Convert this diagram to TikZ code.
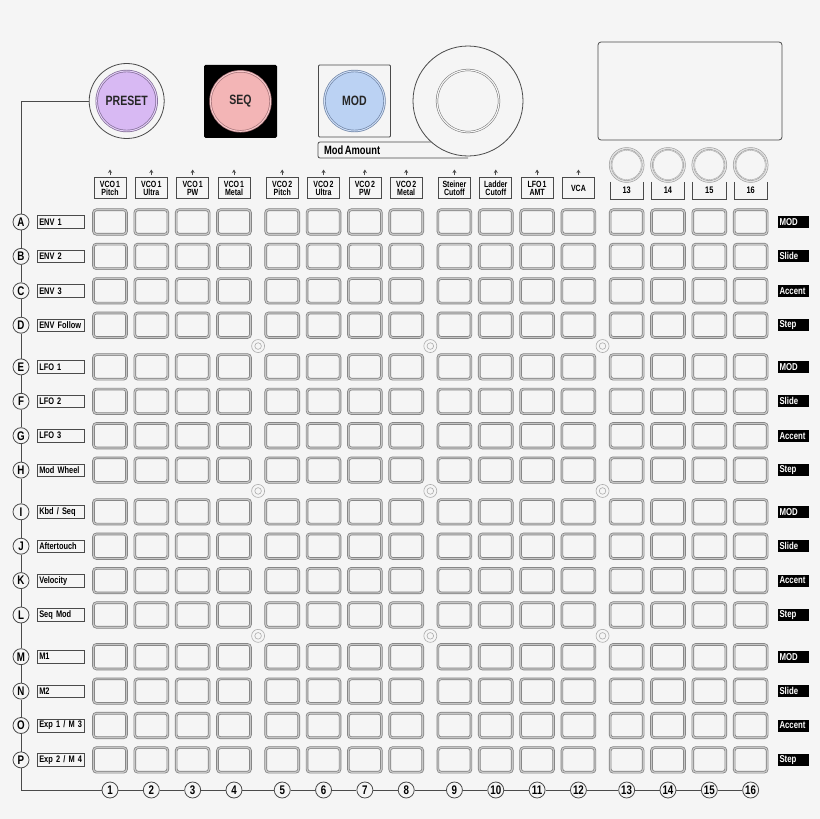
\documentclass[tikz,border=0pt]{standalone}
\usepackage{fontspec}
\setmainfont{Liberation Sans}[FakeStretch=0.78, WordSpace=0.55]
\usetikzlibrary{positioning,calc,arrows.meta}

\definecolor{panel}{HTML}{F5F5F5}
\definecolor{edge}{HTML}{4A4A4A}
\definecolor{padline}{HTML}{7E7E7E}
\definecolor{presetfill}{HTML}{D8B9F3}
\definecolor{presetring}{HTML}{7E6A93}
\definecolor{seqfill}{HTML}{F3B5B6}
\definecolor{seqring}{HTML}{A87479}
\definecolor{modfill}{HTML}{BBD2F3}
\definecolor{modring}{HTML}{6F84A6}

\begin{document}
\begin{tikzpicture}[%
    x=1pt, y=-1pt,
    >=Stealth,
    font=\bfseries,
    line/.style={draw=edge, line width=0.8pt},
    pad/.style={draw=padline, line width=0.7pt, double=gray!45, double distance=1.2pt,
      rounded corners=3pt, minimum width=33pt, minimum height=24.5pt, inner sep=0pt},
    ltr/.style={circle, line, fill=panel, minimum size=16pt, inner sep=0pt,
      font=\bfseries\fontsize{12.5}{12.5}\selectfont},
    src/.style={draw=edge, line width=0.7pt, text width=43pt, inner sep=2pt,
      minimum height=12.5pt, align=left, font=\bfseries\fontsize{9.5}{9.5}\selectfont},
    flag/.style={fill=black, text=white, text width=28pt, inner sep=1.5pt,
      minimum height=12pt, align=left, font=\bfseries\fontsize{10}{10}\selectfont},
    hdr/.style={draw=edge, line width=0.7pt, minimum width=32pt, minimum height=21pt,
      inner sep=0.5pt, align=center, font=\bfseries\fontsize{9}{8.7}\selectfont},
    btn/.style={circle, minimum size=60pt, line width=0.7pt, double distance=1pt,
      font=\bfseries\fontsize{13.5}{13.5}\selectfont, text=black!85},
    knob/.style={circle, draw=gray!85, line width=0.5pt, double=gray!25,
      double distance=1.4pt, minimum size=33pt},
    screw/.style={circle, draw=gray!65, line width=0.6pt, minimum size=13pt, inner sep=0pt},
  ]
  \fill[panel] (0,0) rectangle (820,819);
  \useasboundingbox (0,0) rectangle (820,819);

  % top controls
  \node (presetring) [circle, line, minimum size=75pt] at (126.7,101) {};
  \node (preset) [btn, fill=presetfill, draw=presetring, double=presetfill!70] at (presetring) {PRESET};

  \node (seqbox) [fill=black, rounded corners=1.5pt, minimum width=73pt, minimum height=73pt] at (240.5,101.3) {};
  \node (seq) [btn, fill=seqfill, draw=seqring, double=seqfill!70] at (seqbox) {SEQ};

  \node (modbox) [line, rounded corners=1pt, minimum width=72pt, minimum height=72pt] at (354.5,101) {};
  \node (mod) [btn, fill=modfill, draw=modring, double=modfill!70] at (modbox) {MOD};

  \node (bigknob) [circle, line, minimum size=110pt] at (468,101) {};
  \node (knobcap) [circle, draw=edge!80, line width=0.5pt, double=panel, double distance=1.2pt,
    minimum size=62pt] at (bigknob) {};
  \draw[line, rounded corners=2pt] (431,142) -| (318,158) -- (468,158);
  \node (modamt) [anchor=west, inner sep=0pt, font=\bfseries\fontsize{12}{12}\selectfont] at (324,150) {Mod Amount};

  \node (display) [line, rounded corners=3pt, minimum width=184pt, minimum height=98pt] at (690,91) {};

  % pad grid, rows A--P
  \foreach \ltr/\txt/\mode [count=\r] in {A/ENV 1/MOD, B/ENV 2/Slide, C/ENV 3/Accent, D/ENV Follow/Step,
      E/LFO 1/MOD, F/LFO 2/Slide, G/LFO 3/Accent, H/Mod Wheel/Step,
      I/{Kbd / Seq}/MOD, J/Aftertouch/Slide, K/Velocity/Accent, L/Seq Mod/Step,
      M/M1/MOD, N/M2/Slide, O/{Exp 1 / M 3}/Accent, P/{Exp 2 / M 4}/Step} {
    \pgfmathsetmacro\yy{222+(\r-1)*34.4+int((\r-1)/4)*7.3}
    \node (ltr-\r) [ltr] at (21,\yy) {\ltr};
    \node (src-\r) [src, right=7.5pt of ltr-\r] {\txt};
    \node (flag-\r) [flag] at (793.5,\yy) {\mode};
    \ifnum\r>1
      \pgfmathtruncatemacro\prev{\r-1}
      \draw[line] (ltr-\prev) -- (ltr-\r);
    \fi
    \foreach \c in {1,...,16} {
      \pgfmathsetmacro\xx{110+(\c-1)*41.33+int((\c-1)/4)*6.9}
      \node (pad-\r-\c) [pad] at (\xx,\yy) {};
    }
  }
  \draw[line] (presetring) -| (ltr-1);

  % screws between the pad blocks
  \foreach \sy in {4,8,12} {
    \foreach \sx in {4,8,12} {
      \pgfmathtruncatemacro\ny{\sy+1}
      \pgfmathtruncatemacro\nx{\sx+1}
      \node (screw-\sy-\sx) [screw] at ($(pad-\sy-\sx)!0.5!(pad-\ny-\nx)$) {};
      \draw[gray!65, line width=0.6pt] (screw-\sy-\sx) circle (3.3);
    }
  }

  % column headers 1--12
  \foreach \txt [count=\c] in {{VCO 1\\Pitch}, {VCO 1\\Ultra}, {VCO 1\\PW}, {VCO 1\\Metal},
      {VCO 2\\Pitch}, {VCO 2\\Ultra}, {VCO 2\\PW}, {VCO 2\\Metal},
      {Steiner\\Cutoff}, {Ladder\\Cutoff}, {LFO 1\\AMT}, VCA} {
    \pgfmathsetmacro\xx{110+(\c-1)*41.33+int((\c-1)/4)*6.9}
    \node (hdr-\c) [hdr] at (\xx,188.3) {\txt};
    \coordinate (tip-\c) at (\xx,169.5);
    \draw[draw=edge, line width=0.8pt, -{Stealth[length=3.5pt,width=4pt]}, shorten <=2pt] (hdr-\c) -- (tip-\c);
  }

  % knobs 13--16
  \foreach \c in {13,...,16} {
    \pgfmathsetmacro\xx{110+(\c-1)*41.33+int((\c-1)/4)*6.9}
    \node (knob-\c) [knob] at (\xx,165) {};
    \draw[gray!70, line width=0.4pt] (knob-\c) circle (14.6);
    \node (knl-\c) [minimum width=33pt, minimum height=17pt, inner sep=0pt,
      font=\bfseries\fontsize{9.5}{9.5}\selectfont] at (\xx,190.5) {\c};
    \draw[line] (knl-\c.north west) -- (knl-\c.south west) -- (knl-\c.south east) -- (knl-\c.north east);
  }

  % step numbers 1--16
  \foreach \c in {1,...,16} {
    \pgfmathsetmacro\xx{110+(\c-1)*41.33+int((\c-1)/4)*6.9}
    \node (num-\c) [ltr] at (\xx,790) {\c};
    \ifnum\c>1
      \pgfmathtruncatemacro\prev{\c-1}
      \draw[line] (num-\prev) -- (num-\c);
    \fi
  }
  \draw[line] (ltr-16) |- (num-1);
\end{tikzpicture}
\end{document}
